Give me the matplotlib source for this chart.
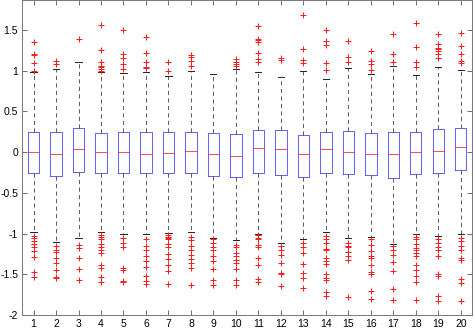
import matplotlib
matplotlib.use("Agg")
import matplotlib.pyplot as plt

labels = [str(i) for i in range(1, 21)]
med = [0.0, -0.03, 0.037, 0.005, 0.0, -0.02, -0.012, 0.012, -0.03, -0.045,
       0.045, 0.033, -0.024, 0.033, 0.005, -0.02, -0.02, 0.005, 0.012, 0.06]
q3 = [0.24, 0.24, 0.30, 0.23, 0.24, 0.25, 0.24, 0.25, 0.23, 0.22,
      0.27, 0.27, 0.215, 0.24, 0.26, 0.23, 0.24, 0.24, 0.28, 0.30]
q1 = [-0.26, -0.29, -0.25, -0.26, -0.26, -0.26, -0.26, -0.26, -0.29, -0.31,
      -0.26, -0.28, -0.31, -0.26, -0.27, -0.28, -0.32, -0.27, -0.26, -0.22]
whis_hi = [0.976, 1.02, 1.10, 0.976, 0.967, 0.976, 0.93, 0.99, 0.96, 1.02,
           0.98, 0.915, 1.0, 0.90, 1.03, 0.96, 1.05, 0.94, 1.04, 1.01]
whis_lo = [-0.984, -1.10, -1.06, -0.98, -1.0, -1.01, -0.99, -0.98, -1.05, -1.08,
           -1.01, -1.11, -1.065, -0.976, -1.05, -1.04, -1.13, -1.0, -1.03, -1.0]
fliers_hi = [
    [1.35, 1.20, 1.19, 1.09, 1.00],
    [1.12, 1.08],
    [1.39],
    [1.56, 1.25, 1.11, 1.06, 1.04, 1.02, 1.00],
    [1.50, 1.20, 1.15, 1.08, 1.02],
    [1.41, 1.21, 1.11, 1.04, 1.03],
    [1.11, 1.00],
    [1.195, 1.16, 1.12, 1.05],
    [],
    [1.14, 1.11, 1.08, 1.05],
    [1.54, 1.39, 1.37, 1.35, 1.22, 1.14, 1.10],
    [1.15, 1.13],
    [1.68, 1.26, 1.13, 1.09],
    [1.50, 1.36, 1.31, 1.09, 1.01],
    [1.36, 1.17, 1.10],
    [1.24, 1.12, 1.08, 1.01],
    [1.45, 1.20, 1.10],
    [1.58, 1.29, 1.11, 1.04],
    [1.45, 1.33, 1.28, 1.26, 1.24, 1.20, 1.155],
    [1.46, 1.30, 1.20, 1.12, 1.09],
]
fliers_lo = [
    [-1.03, -1.06, -1.09, -1.13, -1.17, -1.22, -1.29, -1.47, -1.53],
    [-1.15, -1.20, -1.23, -1.30, -1.36, -1.45, -1.53, -1.55],
    [-1.14, -1.18, -1.30, -1.44, -1.57],
    [-1.02, -1.04, -1.07, -1.13, -1.16, -1.20, -1.24, -1.39, -1.42, -1.53, -1.59],
    [-1.06, -1.11, -1.16, -1.42, -1.45, -1.58, -1.60],
    [-1.07, -1.15, -1.20, -1.28, -1.34, -1.41, -1.52, -1.58, -1.62],
    [-1.02, -1.04, -1.06, -1.07, -1.13, -1.17, -1.25, -1.31, -1.38, -1.46, -1.62],
    [-1.04, -1.08, -1.15, -1.20, -1.26, -1.31, -1.36, -1.42, -1.63],
    [-1.07, -1.11, -1.16, -1.20, -1.28, -1.34, -1.44, -1.57, -1.63],
    [-1.14, -1.17, -1.24, -1.28, -1.32, -1.36, -1.44, -1.57, -1.63],
    [-1.02, -1.05, -1.07, -1.14, -1.16, -1.30, -1.39, -1.56, -1.59],
    [-1.15, -1.20, -1.26, -1.36, -1.49, -1.50, -1.64],
    [-1.12, -1.16, -1.24, -1.37, -1.48, -1.54, -1.67],
    [-1.03, -1.07, -1.11, -1.19, -1.20, -1.30, -1.34, -1.37, -1.50, -1.55, -1.57, -1.72, -1.76],
    [-1.11, -1.15, -1.17, -1.23, -1.28, -1.32, -1.78],
    [-1.065, -1.14, -1.22, -1.27, -1.30, -1.38, -1.47, -1.50, -1.70, -1.80],
    [-1.15, -1.20, -1.26, -1.35, -1.46, -1.68, -1.82],
    [-1.04, -1.07, -1.13, -1.18, -1.20, -1.24, -1.28, -1.39, -1.45, -1.52, -1.59, -1.82],
    [-1.07, -1.11, -1.16, -1.20, -1.27, -1.50, -1.52, -1.76, -1.83],
    [-1.06, -1.09, -1.15, -1.20, -1.30, -1.32, -1.56, -1.61, -1.83],
]
yticks = [-2, -1.5, -1, -0.5, 0, 0.5, 1, 1.5]
ytick_labels = ["-2", "-1.5", "-1", "-0.5", "0", "0.5", "1", "1.5"]

plt.rcParams['font.family'] = ['Liberation Sans', 'DejaVu Sans']

fig = plt.figure(figsize=(4.74, 3.32), dpi=100)
ax = fig.add_axes([0.047, 0.051, 0.949, 0.949])

stats = []
for i in range(len(labels)):
    stats.append(dict(med=med[i], q1=q1[i], q3=q3[i],
                      whislo=whis_lo[i], whishi=whis_hi[i],
                      fliers=fliers_hi[i] + fliers_lo[i], label=labels[i]))

positions = list(range(1, len(labels) + 1))
ax.bxp(stats, positions=positions, widths=0.5, capwidths=0.27,
       boxprops=dict(color='#4646ff', linewidth=0.6),
       medianprops=dict(color='#ff3030', linewidth=0.6),
       whiskerprops=dict(color='#404040', linewidth=0.6, linestyle=(0, (5, 4))),
       capprops=dict(color='#202020', linewidth=0.7),
       flierprops=dict(marker='+', markersize=4.5, markeredgecolor='#ff1a1a',
                       markerfacecolor='none', markeredgewidth=0.7,
                       linestyle='none'))

ax.set_xlim(0.5, 20.5)
ax.set_ylim(-2, 1.865)
ax.set_xticks(positions)
ax.set_xticklabels(labels)
ax.set_yticks(yticks)
ax.set_yticklabels(ytick_labels)
ax.tick_params(direction='in', length=3.5, width=0.6, colors='#555555',
               labelcolor='black', labelsize=7.5, top=True, right=True, pad=3)
for s in ax.spines.values():
    s.set_color('#777777')
    s.set_linewidth(0.7)

fig.savefig('out.png', dpi=100)
